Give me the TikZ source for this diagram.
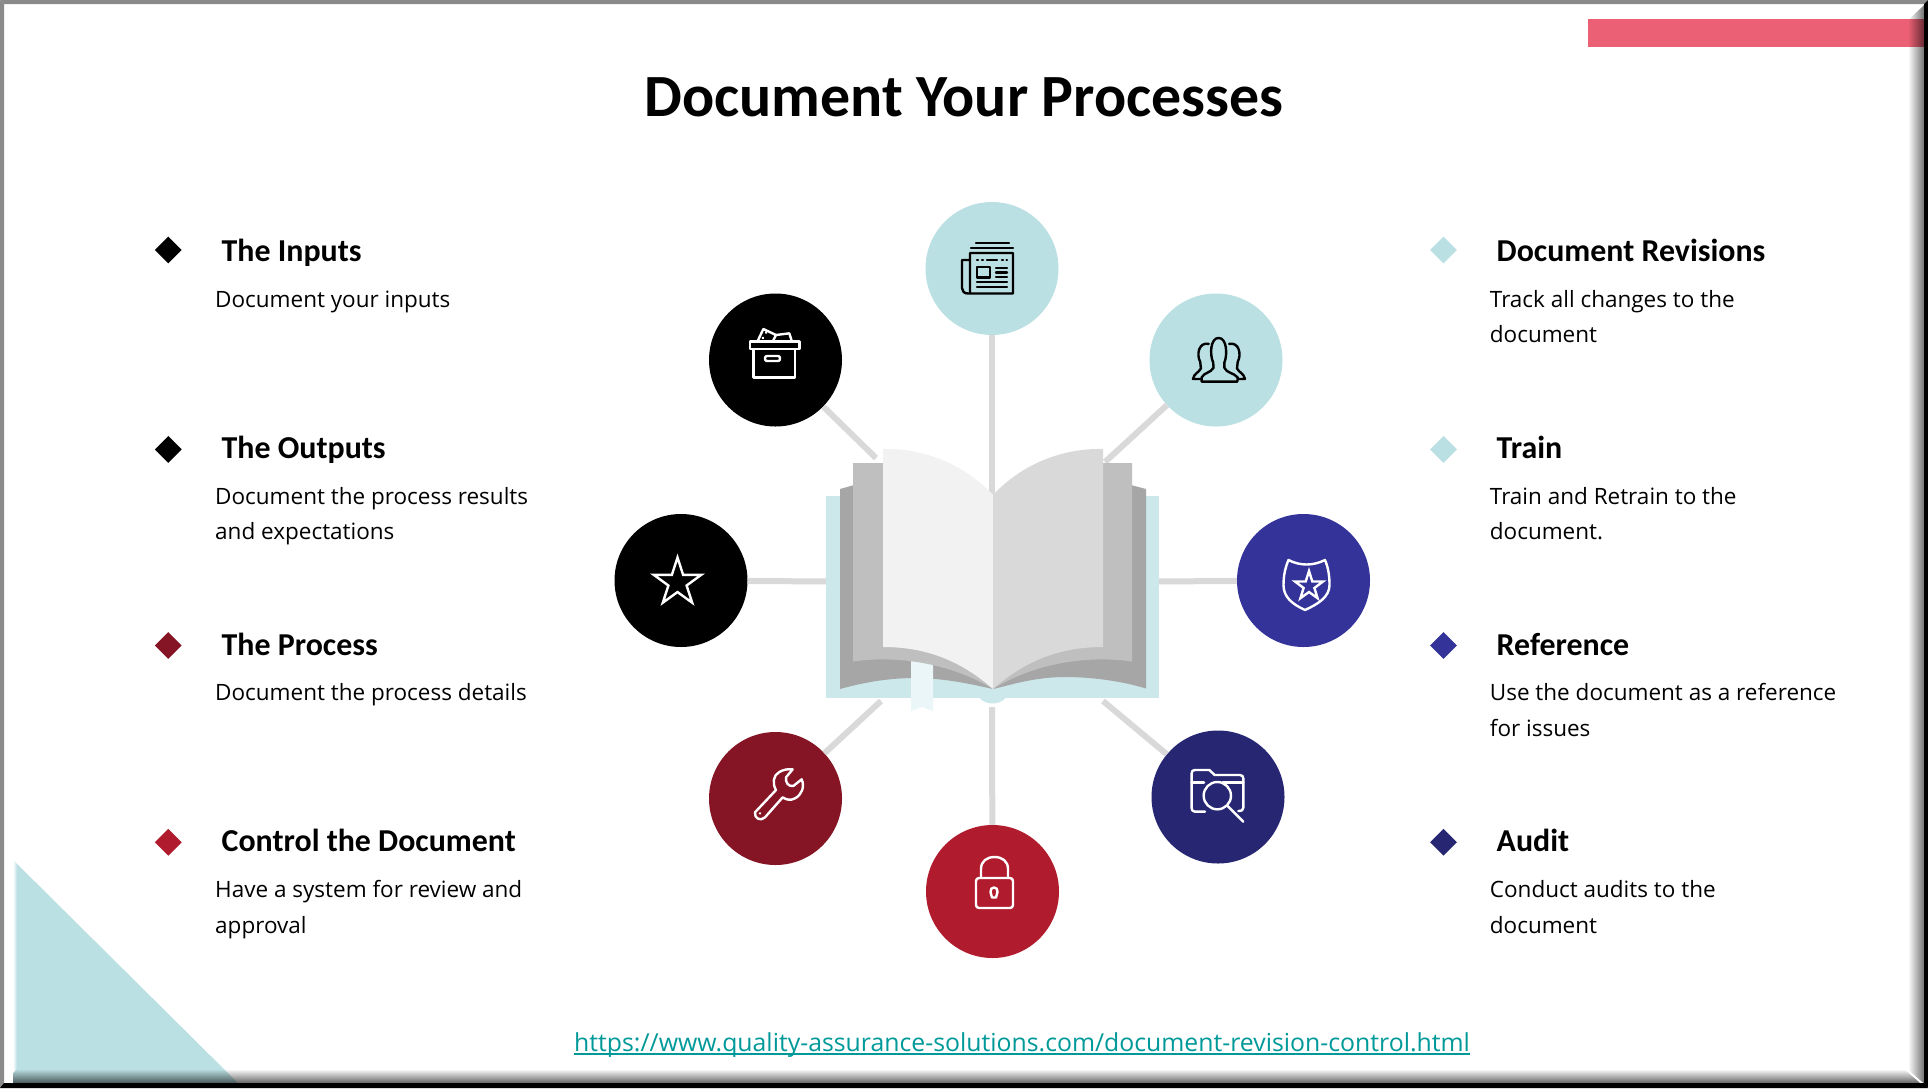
\documentclass[tikz,border=0pt]{standalone}
\usepackage{fontspec}
\setmainfont{Open Sans}
\newfontfamily\headfont{Carlito}
\usetikzlibrary{shapes.geometric,fadings}
\definecolor{teal1}{HTML}{BBE0E3}
\definecolor{cover}{HTML}{CCE8EB}
\definecolor{mark1}{HTML}{EAF6F7}
\definecolor{blue1}{HTML}{333399}
\definecolor{blue2}{HTML}{262673}
\definecolor{red1}{HTML}{851424}
\definecolor{red2}{HTML}{B01C2E}
\definecolor{pinkbar}{HTML}{EB6075}
\definecolor{urlcol}{HTML}{009999}
\definecolor{ln}{HTML}{D9D9D9}
\definecolor{frameg}{HTML}{8A8A8A}
\tikzfading[name=fadeLR,left color=transparent!100,right color=transparent!45]
\tikzfading[name=fadeTB,top color=transparent!100,bottom color=transparent!40]
\tikzfading[name=fadeW,left color=transparent!0,right color=transparent!100]
\newsavebox{\ulbox}
\newcommand{\ulinetext}[1]{\sbox{\ulbox}{#1}\rlap{\usebox{\ulbox}}\rule[-3.5pt]{\wd\ulbox}{1.8pt}}
\tikzset{
  hub/.style={circle,minimum size=133pt,inner sep=0pt,draw=none},
  bullet/.style={diamond,aspect=1,minimum width=27pt,minimum height=27pt,inner sep=0pt,draw=none},
  conn/.style={draw=ln,line width=6pt},
  head/.style={anchor=base west,inner sep=0pt,font=\headfont\bfseries\fontsize{31.9}{36}\selectfont},
  body/.style={anchor=base west,inner sep=0pt,align=left,font=\fontsize{22.5}{35.6}\selectfont},
  bodytwo/.style={body,yshift=-35.6pt},
  icw/.style={draw=white,line width=2.4pt,line join=round,line cap=round},
  ick/.style={draw=black,line width=2.4pt,line join=round,line cap=round},
  zoomed/.style={shift={#1},scale=0.3333}
}
\begin{document}
\begin{tikzpicture}[x=1pt,y=-1pt]
\useasboundingbox (0,0) rectangle (1928,1088);
\fill[white] (0,0) rectangle (1928,1088);
% decorations
\fill[teal1] (4,851) -- (4,1083) -- (238,1083) -- cycle;
\fill[pinkbar] (1588,19) rectangle (1924,46.7);
% title
\node[anchor=base,inner sep=0pt,font=\headfont\bfseries\fontsize{59.9}{70}\selectfont] (title) at (964,116) {Document Your Processes};
% hubs
\node[hub,fill=teal1] (cTop) at (992,268.5) {};
\node[hub,fill=black] (cBox) at (775.5,360) {};
\node[hub,fill=teal1] (cPeople) at (1216,360) {};
\node[hub,fill=black] (cStar) at (681,580.5) {};
\node[hub,fill=blue1] (cShield) at (1303.5,580.5) {};
\node[hub,fill=red1] (cWrench) at (775.5,798.5) {};
\node[hub,fill=blue2] (cFolder) at (1218,797) {};
\node[hub,fill=red2] (cLock) at (992.5,891.5) {};
% connector ends
\coordinate (eTop) at (992,500);
\coordinate (eBox) at (876,458);
\coordinate (ePeople) at (1105,462);
\coordinate (eStar) at (830,581.5);
\coordinate (eShield) at (1155,581.5);
\coordinate (eWrench) at (881,701);
\coordinate (eFolder) at (1103,701);
\coordinate (eLock) at (992,707);
\draw[conn] (cTop) -- (eTop);
\draw[conn] (cBox) -- (eBox);
\draw[conn] (cPeople) -- (ePeople);
\draw[conn] (cStar) -- (eStar);
\draw[conn] (cShield) -- (eShield);
\draw[conn] (cWrench) -- (eWrench);
\draw[conn] (cFolder) -- (eFolder);
\draw[conn] (cLock) -- (eLock);
% book
\fill[cover] (826,496) rectangle (1159,698);
\fill[cover] (979.5,698) .. controls (983,702) and (988,703.5) .. (992.5,703.5) .. controls (997,703.5) and (1002,702) .. (1005.5,698) -- cycle;
\fill[black!35] (840,489) -- (856,484.5) -- (890,484.5) -- (890,600) -- (1096,600) -- (1096,484.5) -- (1129,484.5) -- (1146,489) -- (1146,688.5)
  .. controls (1125,682) and (1095,677) .. (1065,677) .. controls (1035,677) and (1010,685) .. (993,689)
  .. controls (975,685) and (945,678) .. (915,678) .. controls (890,678) and (865,682) .. (840,689) -- cycle;
\fill[mark1] (911,650) -- (933,650) -- (933,711) -- (922,707) -- (911,711) -- cycle;
\fill[black!25] (853,463) -- (890,463) -- (890,600) -- (1096,600) -- (1096,463) -- (1132,463) -- (1132,661.5) .. controls (1095,656) and (1040,660) .. (993,689)
  .. controls (945,660) and (890,656) .. (853,661.5) -- cycle;
\fill[black!5] (883,449) .. controls (925,448) and (965,465) .. (993,495) -- (993,689)
  .. controls (960,660) and (925,647) .. (883,647) -- cycle;
\fill[ln] (1103,449) .. controls (1061,448) and (1021,465) .. (993,495) -- (993,689)
  .. controls (1026,660) and (1061,647) .. (1103,647) -- cycle;
% icon: newspaper
\begin{scope}
\draw[ick] (976,242.7) -- (1009,242.7);
\draw[ick] (971,248) -- (1013,248);
\draw[ick] (970,293.5) -- (970,253) -- (1013,253) -- (1013,293.5) -- (968,293.5) .. controls (964,293.5) and (962,291) .. (962,288) -- (962,260) -- (970,260);
\draw[ick] (977,267) rectangle (990,277.5);
\draw[ick] (996,268) -- (1007,268) (996,272.5) -- (1007,272.5) (996,277) -- (1007,277);
\draw[ick] (977,282) -- (1007,282) (977,287) -- (1007,287);
\draw[ick] (977,260) -- (978,260) (982,260) -- (983,260) (987,260) -- (997,260) (1002,260) -- (1003,260) (1006.5,260) -- (1007,260);
\end{scope}
% icon: box
\begin{scope}[zoomed={(740,325)}]
\draw[icw] (30,50) rectangle (178,72);
\draw[icw] (40,72) -- (40,157) -- (165,157) -- (165,72);
\draw[icw,rounded corners=2pt] (75,93) rectangle (120,108);
\draw[icw] (52,50) -- (70,12) -- (108,30) -- (98,50);
\draw[icw] (108,30) -- (148,25) -- (156,50);
\draw[icw] (78,22) -- (79,23) (68,38) -- (69,39);
\end{scope}
% icon: people
\begin{scope}[shift={(1184.3,323)},xscale=0.361,yscale=0.373]
\draw[ick] (48,157) -- (147,157) -- (148,146) .. controls (135,132) and (118,135) .. (111,120) -- (111,106) .. controls (120,85) and (118,40) .. (95,40) .. controls (72,40) and (70,85) .. (80,106) -- (81,120) .. controls (72,135) and (55,132) .. (48,146) -- cycle;
\draw[ick] (68,56) .. controls (40,50) and (33,85) .. (44,104) -- (46,122) .. controls (40,133) and (27,135) .. (24,150) -- (44,150);
\draw[ick] (124,56) .. controls (152,50) and (159,85) .. (148,104) -- (146,122) .. controls (152,133) and (165,135) .. (168,150) -- (150,150);
\end{scope}
% icon: star
\draw[icw,line cap=butt,miter limit=10,line join=miter]
  (677.5,557.5) -- (683.1,574.8) -- (701.3,574.8) -- (686.6,585.5) -- (692.2,602.7) -- (677.5,592.05) -- (662.8,602.7) -- (668.4,585.5) -- (653.7,574.8) -- (671.9,574.8) -- cycle;
% icon: shield
\draw[icw] (1288.5,560) .. controls (1300,566) and (1313,566) .. (1325,560) .. controls (1328,567) and (1329.5,575) .. (1329.5,585) .. controls (1329.5,597) and (1318,604) .. (1305,610) .. controls (1292,604) and (1283.5,597) .. (1283.5,585) .. controls (1283.5,575) and (1285.5,567) .. (1288.5,560) -- cycle;
\draw[icw,line join=miter]
  (1309,571) -- (1312.3,581.5) -- (1323,581.5) -- (1314.4,588) -- (1317.6,598.2) -- (1309,592) -- (1300.4,598.2) -- (1303.6,588) -- (1295,581.5) -- (1305.7,581.5) -- cycle;
% icon: wrench
\begin{scope}[zoomed={(740,760)}]
\draw[icw] (108,90) .. controls (96,70) and (100,45) .. (118,36) .. controls (128,30) and (142,26) .. (158,28) -- (138,52) .. controls (136,68) and (145,80) .. (160,78) -- (185,58) .. controls (195,80) and (185,105) .. (165,115) .. controls (152,122) and (140,120) .. (128,112) -- (75,172) .. controls (62,185) and (42,175) .. (45,157) -- cycle;
\fill[white] (60,160) circle (4);
\end{scope}
% icon: lock
\draw[icw,rounded corners=3pt] (976,878) rectangle (1013,908);
\draw[icw] (981,878) -- (981,869) .. controls (981,861) and (987,857) .. (994.5,857) .. controls (1002,857) and (1008,861) .. (1008,869) -- (1008,878);
\draw[icw] (992,897.5) -- (990.5,892) .. controls (990,889) and (992,887.5) .. (994,887.5) .. controls (996,887.5) and (998,889) .. (997.5,892) -- (996,897.5) -- cycle;
% icon: folder
\begin{scope}[zoomed={(1180,760)}]
\draw[icw] (75,155) -- (45,155) .. controls (38,155) and (35,150) .. (35,145) -- (35,40) .. controls (35,33) and (38,30) .. (45,30) -- (88,30) -- (104,45) -- (180,45) .. controls (187,45) and (190,50) .. (190,55) -- (190,143) .. controls (190,150) and (185,153) .. (175,153);
\draw[icw] (35,68) -- (72,68) (128,68) -- (190,68);
\draw[icw] (112,107) circle (41);
\draw[icw] (143,138) -- (190,185);
\end{scope}
% bullets
\node[bullet,fill=black] (bA) at (168.3,250) {};
\node[bullet,fill=black] (bB) at (168.3,449.4) {};
\node[bullet,fill=red1] (bC) at (168.3,645.5) {};
\node[bullet,fill=red2] (bD) at (168.3,842.3) {};
\node[bullet,fill=teal1] (bE) at (1443.5,250) {};
\node[bullet,fill=teal1] (bF) at (1443.5,449.4) {};
\node[bullet,fill=blue1] (bG) at (1443.5,645.5) {};
\node[bullet,fill=blue2] (bH) at (1443.5,842.3) {};
% left text
\node[head] (hA) at (221.5,261) {The Inputs};
\node[body] (tA) at (215,307) {Document your inputs};
\node[head] (hB) at (221.5,458) {The Outputs};
\node[bodytwo] (tB) at (215,504) {Document the process results\\and expectations};
\node[head] (hC) at (221.5,655) {The Process};
\node[body] (tC) at (215,700.7) {Document the process details};
\node[head] (hD) at (221.5,851.4) {Control the Document};
\node[bodytwo] (tD) at (215,897.4) {Have a system for review and\\approval};
% right text
\node[head] (hE) at (1496.5,261) {Document Revisions};
\node[bodytwo] (tE) at (1489.7,307) {Track all changes to the\\document};
\node[head] (hF) at (1496.5,458) {Train};
\node[bodytwo] (tF) at (1489.7,504) {Train and Retrain to the\\document.};
\node[head] (hG) at (1496.5,655) {Reference};
\node[bodytwo] (tG) at (1489.7,700.7) {Use the document as a reference\\for issues};
\node[head] (hH) at (1496.5,851.4) {Audit};
\node[bodytwo] (tH) at (1489.7,897.4) {Conduct audits to the\\document};
% url
\node[anchor=base west,inner sep=0pt,text=urlcol,font=\fontsize{24.8}{28}\selectfont] (url) at (574,1051) {\color{urlcol}\ulinetext{https://www.quality-assurance-solutions.com/document-revision-control.html}};
% frame bevels
\fill[black,path fading=fadeLR] (1908,19) -- (1924,4) -- (1924,1083) -- (1908,1069) -- cycle;
\fill[black,path fading=fadeTB] (17,1069) -- (1908,1069) -- (1924,1083) -- (4,1083) -- cycle;
\fill[white] (4,851) rectangle (13,1083);
\fill[white,path fading=fadeW] (13,851) -- (17,855) -- (17,1069) -- (13,1073) -- cycle;
\fill[frameg] (0,0) -- (1928,0) -- (1924,4) -- (4,4) -- cycle;
\fill[frameg] (0,0) -- (4,4) -- (4,1083) -- (0,1088) -- cycle;
\fill[black] (1928,0) -- (1924,4) -- (1924,1083) -- (1928,1088) -- cycle;
\fill[black] (0,1088) -- (4,1083) -- (1924,1083) -- (1928,1088) -- cycle;
\end{tikzpicture}
\end{document}
